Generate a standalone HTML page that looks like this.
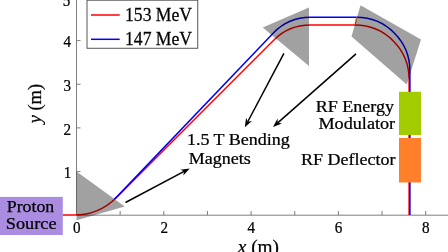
<!DOCTYPE html>
<html><head><meta charset="utf-8"><style>
html,body{margin:0;padding:0;background:#fff;overflow:hidden}
svg{display:block}
text{font-family:"Liberation Serif",serif;fill:#000;stroke:#000;stroke-width:0.25px}
</style></head><body>
<svg width="448" height="252" viewBox="0 0 448 252">
<defs><clipPath id="nm1"><path clip-rule="evenodd" d="M0,0H448V252H0Z M70,171.5 L76.5,171.5 L124.8,206.4 L76.5,220.2 L70,220.2Z"/></clipPath></defs>
<rect width="448" height="252" fill="#fff"/>
<!-- axes -->
<g stroke="#7f7f7f" stroke-width="1" fill="none">
<path d="M76.5,0 V215.2 H448"/>
<path d="M76.5,40.6h4.0 M76.5,84.25h4.0 M76.5,127.9h4.0 M76.5,171.55h4.0"/>
<path d="M120.15,215.2v-4.2 M163.8,215.2v-4.2 M207.45,215.2v-4.2 M251.1,215.2v-4.2 M294.75,215.2v-4.2 M338.4,215.2v-4.2 M382.05,215.2v-4.2 M425.7,215.2v-4.2 M76.5,215.2v-4.2"/>
</g>
<text transform="translate(70.2,5.9) scale(0.8800,1)" font-size="17.2" text-anchor="end">5</text>
<text transform="translate(71.0,47.0) scale(0.8800,1)" font-size="17.2" text-anchor="end">4</text>
<text transform="translate(71.0,90.9) scale(0.8800,1)" font-size="17.2" text-anchor="end">3</text>
<text transform="translate(71.0,134.5) scale(0.8800,1)" font-size="17.2" text-anchor="end">2</text>
<text transform="translate(71.4,178.1) scale(0.8800,1)" font-size="17.2" text-anchor="end">1</text>
<text transform="translate(76.8,232.7) scale(0.8800,1)" font-size="17.2" text-anchor="middle">0</text>
<text transform="translate(164.2,232.7) scale(0.8800,1)" font-size="17.2" text-anchor="middle">2</text>
<text transform="translate(251.3,232.7) scale(0.8800,1)" font-size="17.2" text-anchor="middle">4</text>
<text transform="translate(338.6,232.7) scale(0.8800,1)" font-size="17.2" text-anchor="middle">6</text>
<text transform="translate(425.9,232.7) scale(0.8800,1)" font-size="17.2" text-anchor="middle">8</text>
<text font-size="19.3" x="237.8" y="253.4"><tspan font-style="italic">x</tspan> (m)</text>
<text font-size="18.4" transform="translate(40.5,123.3) rotate(-90)"><tspan font-style="italic">y</tspan> (m)</text>
<!-- beams -->
<path d="M62.50,215.10 L74.04,215.10 A60.00,60.00 0 0 0 116.47,197.53 L273.96,40.04 A51.00,51.00 0 0 1 310.02,25.10 L355.00,25.10 A54.10,54.10 0 0 1 409.10,79.20 L409.10,215.00" stroke="#ff0000" stroke-width="1.5" fill="none"/>
<path d="M74.18,215.10 L74.18,215.10 A59.00,59.00 0 0 0 116.84,196.86 L273.36,33.06 A51.00,51.00 0 0 1 310.23,17.30 L356.50,17.30 A53.40,53.40 0 0 1 409.90,70.70 L409.90,215.00" stroke="#0000ff" stroke-width="1.5" fill="none" clip-path="url(#nm1)"/>
<path d="M356.7,17 L355,25" stroke="#d05000" stroke-width="1.2" fill="none"/>
<!-- magnets -->
<g fill="#000" fill-opacity="0.37">
<polygon points="76.5,171.5 124.8,206.4 76.5,220.2"/>
<polygon points="262.7,27.4 309,7.5 309,66.0"/>
<polygon points="360.5,5.3 421,39.5 406.75,84.5 351.5,36.5"/>
</g>
<!-- RF boxes -->
<rect x="399" y="91.75" width="22" height="43.25" fill="#a2cc00"/>
<rect x="399" y="138" width="22" height="44.5" fill="#ff7f2a"/>
<!-- proton source -->
<rect x="0" y="196.9" width="62.8" height="38.1" fill="#aa8ce1"/>
<text transform="translate(6.8,212) scale(1.0595,1)" font-size="16.8" text-anchor="start">Proton</text>
<text transform="translate(5.8,228.5) scale(1.0893,1)" font-size="16.8" text-anchor="start">Source</text>
<text transform="translate(186.9,145) scale(1.0714,1)" font-size="16.8" text-anchor="start">1.5 T Bending</text>
<text transform="translate(188.8,163.8) scale(1.0714,1)" font-size="16.8" text-anchor="start">Magnets</text>
<text transform="translate(315.8,111.5) scale(1.0714,1)" font-size="16.8" text-anchor="start">RF Energy</text>
<text transform="translate(318.4,128.8) scale(1.0833,1)" font-size="16.8" text-anchor="start">Modulator</text>
<text transform="translate(301,165) scale(1.0714,1)" font-size="16.8" text-anchor="start">RF Deflector</text>
<!-- legend -->
<rect x="87" y="0.2" width="110.75" height="48.05" fill="#fff" stroke="#444" stroke-width="0.9"/>
<path d="M91,15H119.7" stroke="#ff0000" stroke-width="1.5"/>
<path d="M91,39.3H119.7" stroke="#0000ff" stroke-width="1.5"/>
<text transform="translate(125.0,20.5) scale(0.9241,1)" font-size="19.1" text-anchor="start">153 MeV</text>
<text transform="translate(125.0,44.6) scale(0.9241,1)" font-size="19.1" text-anchor="start">147 MeV</text>
<!-- arrows -->
<path d="M125.50,202.50 L184.14,171.36" stroke="#000" stroke-width="1.5" fill="none"/><polygon points="189.70,168.40 183.30,175.54 184.14,171.36 180.20,169.71" fill="#000"/>
<path d="M283.90,53.40 L247.75,121.73" stroke="#000" stroke-width="1.5" fill="none"/><polygon points="244.80,127.30 246.09,117.80 247.75,121.73 251.93,120.89" fill="#000"/>
<path d="M356.00,53.90 L277.73,122.84" stroke="#000" stroke-width="1.5" fill="none"/><polygon points="273.00,127.00 277.57,118.58 277.73,122.84 281.94,123.53" fill="#000"/>
</svg>
</body></html>
